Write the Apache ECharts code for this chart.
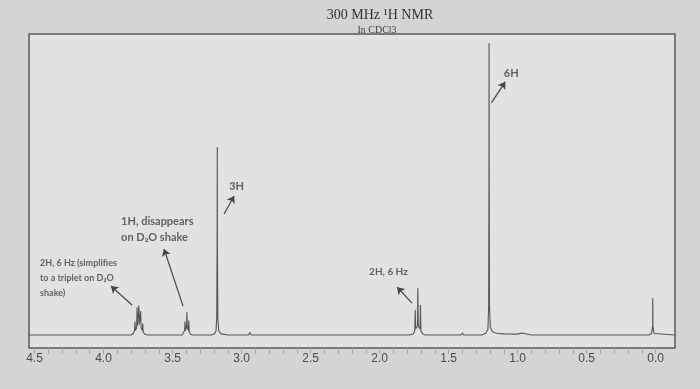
<!DOCTYPE html>
<html>
<head>
<meta charset="utf-8">
<script src="https://cdn.jsdelivr.net/npm/echarts@6/dist/echarts.min.js"></script>
<style>html,body{margin:0;padding:0;background:#d4d4d6;}#c{width:700px;height:389px;}</style>
</head>
<body>
<div id="c"></div>
<script>
// chemical-shift axis (ppm)
const tickLabels = [0.0, 0.5, 1.0, 1.5, 2.0, 2.5, 3.0, 3.5, 4.0, 4.5];
const minorTicks = [0.0,0.1,0.2,0.3,0.4,0.5,0.6,0.7,0.8,0.9,1.0,1.1,1.2,1.3,1.4,1.5,1.6,1.7,1.8,1.9,2.0,2.1,2.2,2.3,2.4,2.5,2.6,2.7,2.8,2.9,3.0,3.1,3.2,3.3,3.4,3.5,3.6,3.7,3.8,3.9,4.0,4.1,4.2,4.3,4.4,4.5];

// spectrum trace: [ppm, intensity]
const spectrum = [
  [4.54,0],[3.80,0],[3.785,0.5],[3.775,1.5],
  [3.772,4.5],[3.769,1.5],
  [3.760,2.5],[3.757,9.2],[3.754,3],
  [3.747,3.5],[3.744,9.8],[3.741,3.5],
  [3.734,3],[3.731,8.0],[3.728,2.5],
  [3.719,1.5],[3.716,3.8],[3.713,1],
  [3.70,0.3],[3.68,0],
  [3.43,0],[3.418,0.4],[3.413,1.5],[3.410,4.5],[3.407,1.5],[3.399,2.5],[3.396,7.6],[3.393,2.5],[3.385,1.5],[3.382,4.8],[3.379,1.2],[3.37,0.3],[3.355,0],
  [3.22,0],[3.195,0.4],[3.185,1.5],[3.18,6],[3.177,30],[3.176,62.5],[3.175,30],[3.172,6],[3.166,1.5],[3.15,0.4],[3.10,0],
  [2.95,0],[2.94,0.8],[2.93,0],
  [1.78,0],[1.755,0.4],[1.745,1.5],[1.742,8.3],[1.739,2],[1.726,3],[1.723,15.6],[1.720,3],[1.707,2],[1.704,10],[1.701,1.5],[1.69,0.4],[1.67,0],
  [1.41,0],[1.40,0.7],[1.39,0],
  [1.26,0],[1.23,0.6],[1.215,2],[1.210,10],[1.208,50],[1.207,97],[1.206,50],[1.204,10],[1.198,2.5],[1.18,1.0],[1.15,0.6],[1.10,0.4],[1.0,0.3],[0.97,0.7],[0.96,0.2],[0.9,0],
  [0.05,0],[0.03,0.5],[0.022,3],[0.021,12.3],[0.020,3],[0.012,0.5],[0,0],[-0.14,0]
];

// annotation texts and where they sit [ppm, intensity]
const annTexts = ['6H', '3H', '1H, disappears\non D\u2082O shake', '2H, 6 Hz (simplifies\nto a triplet on D\u2082O\nshake)', '2H, 6 Hz'];
const annAnchors = [[1.10, 89.6], [3.09, 52], [3.873, 40.5], [4.46, 26.5], [2.076, 23.3]];
const annSizes = [11, 11, 11, 9, 10];
const annLineHeights = [16, 16, 16, 15, 14];
// arrows: [from, to]
const arrows = [
  [[1.19, 77.1], [1.09, 84.1]],
  [[3.127, 40.2], [3.054, 46.2]],
  [[3.424, 9.6], [3.562, 28.6]],
  [[3.794, 10.0], [3.946, 16.3]],
  [[1.765, 10.6], [1.873, 15.9]]
];

const chart = echarts.init(document.getElementById('c'));
chart.setOption({
  backgroundColor: '#d4d4d6',
  animation: false,
  title: [
    {text: '300 MHz \u00B9H NMR', left: 375, top: 3, textAlign: 'center',
     textStyle: {fontFamily: 'Liberation Serif', fontSize: 14, fontWeight: 'normal', color: '#333'}},
    {text: 'In CDCl3', left: 372, top: 20, textAlign: 'center',
     textStyle: {fontFamily: 'Liberation Serif', fontSize: 10, fontWeight: 'normal', color: '#444'}}
  ],
  grid: {left: 29, right: 25, top: 34, bottom: 41, show: true, borderColor: '#5a5a5a', borderWidth: 1.5, backgroundColor: '#e2e2e4'},
  xAxis: {
    type: 'value', inverse: true, min: -0.14, max: 4.54,
    splitLine: {show: false},
    axisLine: {show: false, onZero: false},
    axisTick: {show: true, customValues: minorTicks, length: 6, lineStyle: {color: '#a8a8a8'}},
    axisLabel: {customValues: tickLabels, margin: 5, fontSize: 12, color: '#4a4a4a', fontFamily: 'Liberation Sans',
      formatter: v => v.toFixed(1)}
  },
  yAxis: {type: 'value', min: -4.3, max: 100, show: false},
  series: [{
    type: 'line', data: spectrum, showSymbol: false, symbol: 'none',
    lineStyle: {color: '#555', width: 1.1},
    markLine: {
      silent: true, symbol: ['none', 'arrow'], symbolSize: 7,
      lineStyle: {color: '#444', width: 1.2, type: 'solid'},
      label: {show: false},
      data: arrows.map(a => [{coord: a[0]}, {coord: a[1]}])
    },
    markPoint: {
      silent: true, symbol: 'circle', symbolSize: 0,
      data: annTexts.map((t, i) => ({
        coord: annAnchors[i],
        label: {show: true, formatter: t, position: [0, 0], align: 'left', verticalAlign: 'top',
          fontFamily: 'Lato', fontWeight: 'bold', fontSize: annSizes[i], color: '#626262',
          lineHeight: annLineHeights[i]}
      }))
    }
  }]
});
</script>
</body>
</html>
